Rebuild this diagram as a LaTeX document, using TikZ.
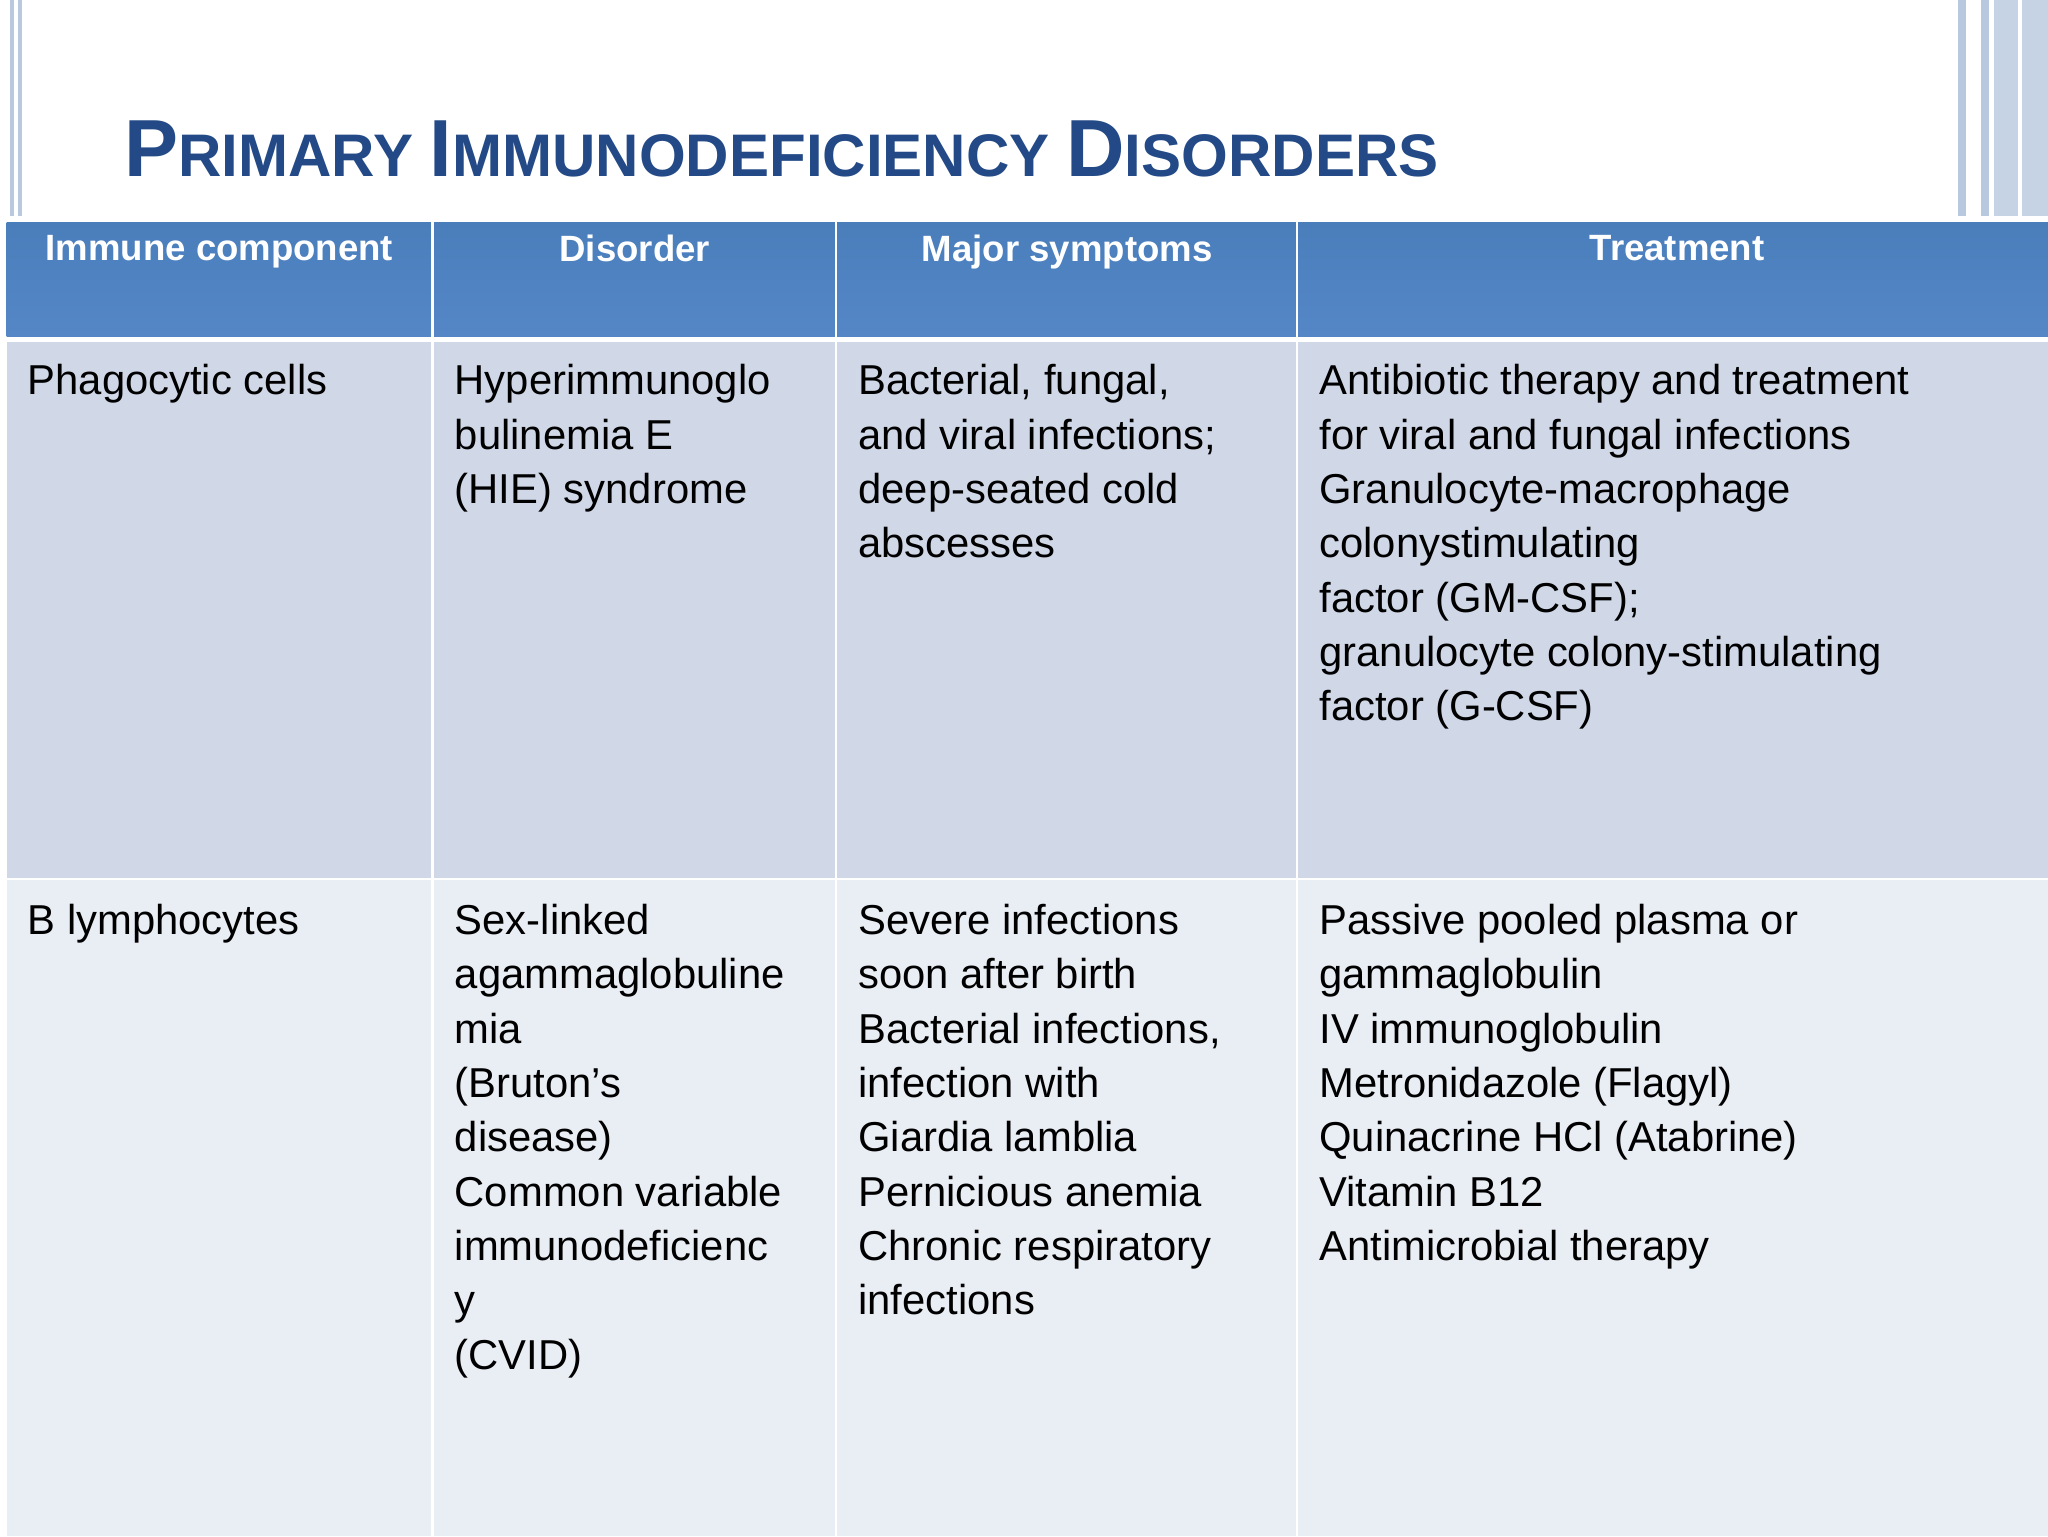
\documentclass[tikz,border=0pt]{standalone}
\usepackage{fontspec}
\setmainfont{Liberation Sans}
\definecolor{hdr}{HTML}{4A7EBB}
\definecolor{hdrb}{HTML}{5587C6}
\definecolor{rowa}{HTML}{D0D8E8}
\definecolor{rowb}{HTML}{E9EDF4}
\definecolor{ttl}{HTML}{234A86}
\definecolor{deco}{HTML}{B8C8DE}
\begin{document}
\begin{tikzpicture}[x=1pt,y=-1pt,
  cell/.style={anchor=north west,inner sep=0pt,align=left,font=\fontsize{32}{41.6}\selectfont,text=black},
  head/.style={anchor=north,inner sep=0pt,font=\bfseries\fontsize{28}{34}\selectfont,text=white}]
\useasboundingbox (0,0) rectangle (1568,1176);
\fill[white] (0,0) rectangle (1568,1176);
% decorations
\fill[deco] (8,0) rectangle (11,165);
\fill[deco] (14,0) rectangle (17,165);
\fill[deco] (1499,0) rectangle (1505,165);
\fill[deco] (1517,0) rectangle (1523,165);
\fill[deco!80] (1527,0) rectangle (1568,165);
\fill[white] (1545,0) rectangle (1548,165);
% title
\node[anchor=base west,inner sep=0pt,text=ttl,font=\bfseries] (title) at (95,135)
 {\fontsize{62}{70}\selectfont P\fontsize{46}{50}\selectfont RIMARY \fontsize{62}{70}\selectfont I\fontsize{46}{50}\selectfont MMUNODEFICIENCY \fontsize{62}{70}\selectfont D\fontsize{46}{50}\selectfont ISORDERS};
% table
\shade[top color=hdr,bottom color=hdrb] (5,170) rectangle (1568,258);
\fill[rowa] (5,262) rectangle (1568,673);
\fill[rowb] (5,673) rectangle (1568,1176);
\draw[white,line width=2pt] (5,673) -- (1568,673);
\foreach \x in {331,640,993} \draw[white,line width=2pt] (\x,170) -- (\x,1176);
% headers
\node[head] (h1) at (168,180) {Immune component};
\node[head] (h2) at (486,180) {Disorder};
\node[head] (h3) at (817,180) {Major symptoms};
\node[head] (h4) at (1284,180) {Treatment};
% row 1
\node[cell] (a1) at (21,279) {Phagocytic cells};
\node[cell] (b1) at (348,279) {Hyperimmunoglo\\bulinemia E\\(HIE) syndrome};
\node[cell] (c1) at (657,279) {Bacterial, fungal,\\and viral infections;\\deep-seated cold\\abscesses};
\node[cell] (d1) at (1010,279) {Antibiotic therapy and treatment\\for viral and fungal infections\\Granulocyte-macrophage\\colonystimulating\\factor (GM-CSF);\\granulocyte colony-stimulating\\factor (G-CSF)};
% row 2
\node[cell] (a2) at (21,692) {B lymphocytes};
\node[cell] (b2) at (348,692) {Sex-linked\\agammaglobuline\\mia\\(Bruton’s\\disease)\\Common variable\\immunodeficienc\\y\\(CVID)};
\node[cell] (c2) at (657,692) {Severe infections\\soon after birth\\Bacterial infections,\\infection with\\Giardia lamblia\\Pernicious anemia\\Chronic respiratory\\infections};
\node[cell] (d2) at (1010,692) {Passive pooled plasma or\\gammaglobulin\\IV immunoglobulin\\Metronidazole (Flagyl)\\Quinacrine HCl (Atabrine)\\Vitamin B12\\Antimicrobial therapy};
\end{tikzpicture}
\end{document}
